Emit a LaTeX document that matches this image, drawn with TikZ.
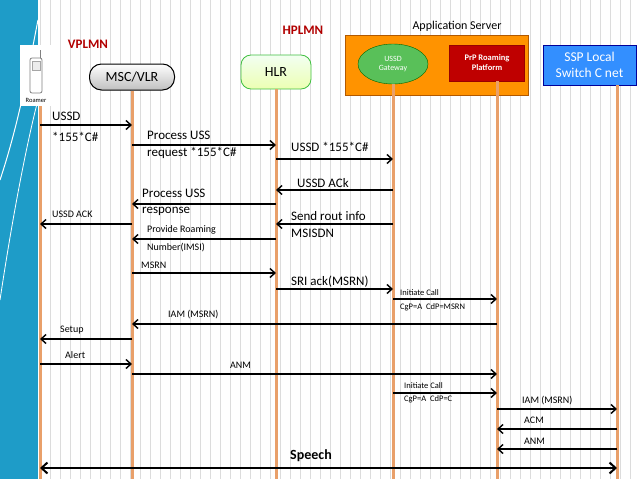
\documentclass[tikz,border=0pt]{standalone}
\usepackage{fontspec}
\setmainfont{Carlito}
\usetikzlibrary{shapes.geometric,arrows.meta}
\definecolor{life}{HTML}{E9A06A}
\definecolor{gridc}{HTML}{DCDCDC}
\definecolor{band}{HTML}{1E9CC8}
\tikzset{
  life/.style={draw=life,line width=3pt},
  msg/.style={draw=black,line width=1.4pt,-{Straight Barb[length=5pt,width=9pt]}},
  lab/.style={anchor=west,inner sep=0pt,font=\fontsize{13}{14}\selectfont},
  slab/.style={anchor=west,inner sep=0pt,font=\fontsize{10}{11}\selectfont},
  tlab/.style={anchor=west,inner sep=0pt,font=\fontsize{8.5}{9}\selectfont},
}
\begin{document}
\begin{tikzpicture}[x=1pt,y=-1pt]
\useasboundingbox (0,0) rectangle (638,479);
\fill[white] (0,0) rectangle (638,479);
\draw[gridc,line width=0.5pt,step=10] (38,0) grid (638,479);
\fill[band] (0,0) rectangle (38,479);
\draw[white,line width=1pt] (0,180) .. controls (20,120) and (30,60) .. (38,20);
\draw[white,line width=0.8pt] (0,300) .. controls (15,200) and (30,130) .. (38,100);
% titles
\node[text=red!70!black,font=\bfseries\fontsize{13}{14}\selectfont] (vp) at (88,44) {VPLMN};
\node[text=red!70!black,font=\bfseries\fontsize{13}{14}\selectfont] (hp) at (303,30) {HPLMN};
\node[font=\fontsize{12}{13}\selectfont] (ast) at (457,26) {Application Server};
% nodes
\node[draw=white,fill=white,minimum width=32,minimum height=60,inner sep=0pt] (roam) at (36,75) {};
\node[font=\fontsize{6.5}{7}\selectfont] (roamt) at (36,100) {Roamer};
\draw[gray,line width=0.8pt,rounded corners=2pt] (30,58) rectangle (42,93);
\draw[gray,line width=0.8pt] (40,58) -- (40,50);
\draw[gray!70,fill=gray!15] (32,61) rectangle (40,70);
\node[draw=black,line width=1pt,rounded corners=12pt,top color=white,bottom color=gray!50,minimum width=85,minimum height=26,font=\fontsize{14}{15}\selectfont] (msc) at (132,77) {MSC/VLR};
\node[draw=green!50!gray,line width=0.8pt,rounded corners=10pt,top color=green!5,bottom color=green!25!yellow!30,minimum width=70,minimum height=34,font=\fontsize{14}{15}\selectfont] (hlr) at (276,72) {HLR};
\node[draw=orange!70!black,fill=orange!85!yellow,minimum width=183,minimum height=60] (as) at (436.5,65) {};
\node[ellipse,draw=green!40!black,fill=green!45!gray!90,text=white,minimum width=70,minimum height=40,align=center,font=\fontsize{8}{9}\selectfont] (gw) at (393,64) {USSD\\Gateway};
\node[draw=red!60!black,fill=red!75!black,text=white,minimum width=75,minimum height=36,align=center,font=\bfseries\fontsize{8.5}{10}\selectfont] (prp) at (487,63) {PrP Roaming\\Platform};
\node[draw=blue!60!black,fill=blue!55!cyan!80,text=white,minimum width=93,minimum height=40,align=center,font=\fontsize{13.5}{16}\selectfont] (ssp) at (589.5,65) {SSP Local\\Switch C net};
% lifeline ends
\coordinate (e1) at (40,479); \coordinate (e2) at (132,479); \coordinate (e3) at (276,479);
\coordinate (e4) at (393,479); \coordinate (e5) at (497,479); \coordinate (e6) at (617,479);
\draw[life] (40,106) -- (e1);
\draw[life] (msc.south) -- (e2);
\draw[life] (hlr.south) -- (e3);
\draw[life] (gw.south) -- (e4);
\draw[life] (497,81) -- (e5);
\draw[life] (617,85) -- (e6);
% message endpoints
\foreach \n/\x in {a/40,b/132,c/276,d/393,e/497,f/617}{
  \foreach \y in {125,145,159,190,204,224,239,273,289,299,324,339,364,374,393,409,429,449,468}{
    \coordinate (\n\y) at (\x,\y);}}
\draw[msg] (a125) -- (b125);
\node[lab] (t1) at (52,116) {USSD}; \node[lab] (t1b) at (52,137) {*155*C\#};
\draw[msg] (b145) -- (c145);
\node[lab] (t2) at (147,135) {Process USS}; \node[lab] (t2b) at (147,153) {request *155*C\#};
\draw[msg] (c159) -- (d159);
\node[lab] (t3) at (291,147) {USSD *155*C\#};
\draw[msg] (d190) -- (c190);
\node[lab] (t4) at (297,183) {USSD ACk};
\draw[msg] (c204) -- (b204);
\node[lab] (t5) at (142,193) {Process USS}; \node[lab] (t5b) at (142,211) {response};
\draw[msg] (b224) -- (a224);
\node[slab] (t6) at (52,214) {USSD ACK};
\draw[msg] (d224) -- (c224);
\node[lab] (t7) at (291,216) {Send rout info}; \node[lab] (t7b) at (291,233) {MSISDN};
\draw[msg] (c239) -- (b239);
\node[slab] (t8) at (147,230) {Provide Roaming}; \node[slab] (t8b) at (147,248) {Number(IMSI)};
\draw[msg] (b273) -- (c273);
\node[slab] (t9) at (141,265) {MSRN};
\draw[msg] (c289) -- (d289);
\node[lab] (t10) at (291,282) {SRI ack(MSRN)};
\draw[msg] (d299) -- (e299);
\node[tlab] (t11) at (400,293) {Initiate Call}; \node[tlab] (t11b) at (400,307) {CgP=A\ \ CdP=MSRN};
\draw[msg] (e324) -- (b324);
\node[slab] (t12) at (168,315) {IAM (MSRN)};
\draw[msg] (b339) -- (a339);
\node[slab] (t13) at (60,330) {Setup};
\draw[msg] (a364) -- (b364);
\node[slab] (t14) at (65,355) {Alert};
\draw[msg] (b374) -- (e374);
\node[slab] (t15) at (230,365) {ANM};
\draw[msg] (d393) -- (e393);
\node[tlab] (t16) at (404,386) {Initiate Call}; \node[tlab] (t16b) at (404,399) {CgP=A\ \ CdP=C};
\draw[msg] (e409) -- (f409);
\node[slab] (t17) at (522,401) {IAM (MSRN)};
\draw[msg] (f429) -- (e429);
\node[slab] (t18) at (524,420) {ACM};
\draw[msg] (f449) -- (e449);
\node[slab] (t19) at (524,441) {ANM};
\draw[line width=2pt,{Straight Barb[length=6pt,width=11pt]}-{Straight Barb[length=6pt,width=11pt]}] (a468) -- (f468);
\node[lab,font=\bfseries\fontsize{14}{15}\selectfont] (t20) at (290,456) {Speech};
\end{tikzpicture}
\end{document}
